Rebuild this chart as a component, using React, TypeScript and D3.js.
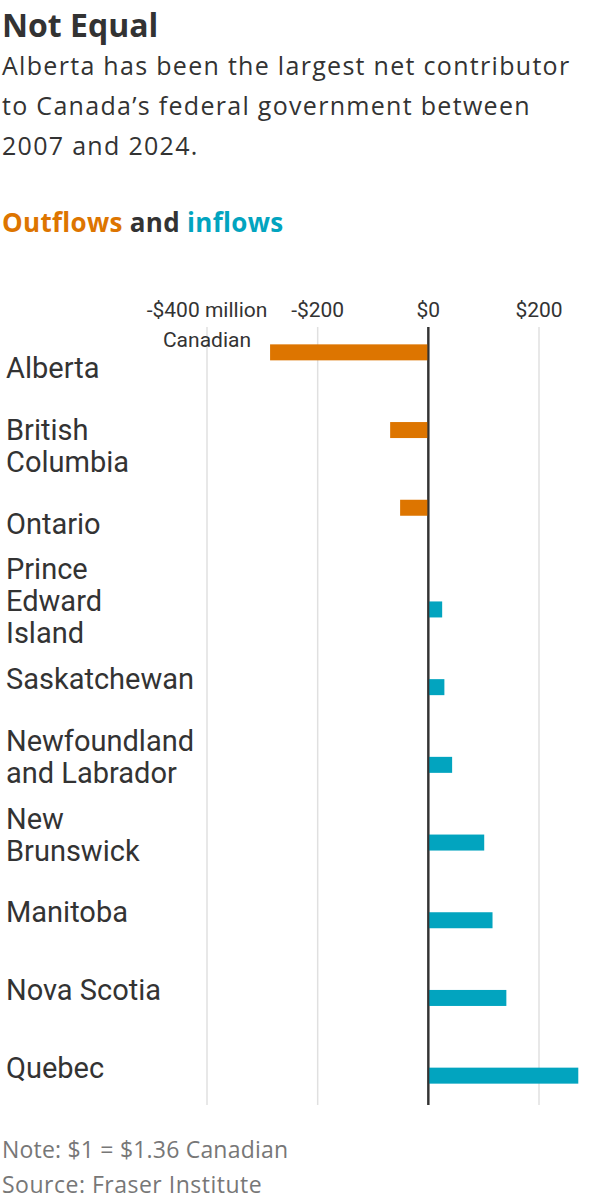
import React from "react";
import * as d3 from "d3";

const provinces = [
  "Alberta",
  "British Columbia",
  "Ontario",
  "Prince Edward Island",
  "Saskatchewan",
  "Newfoundland and Labrador",
  "New Brunswick",
  "Manitoba",
  "Nova Scotia",
  "Quebec",
];
const labelLines = [
  ["Alberta"],
  ["British", "Columbia"],
  ["Ontario"],
  ["Prince", "Edward", "Island"],
  ["Saskatchewan"],
  ["Newfoundland", "and Labrador"],
  ["New", "Brunswick"],
  ["Manitoba"],
  ["Nova Scotia"],
  ["Quebec"],
];
const netFlows = [-286, -69, -51, 25, 29, 43, 101, 116, 141, 271];
const tickValues = [-400, -200, 0, 200];
const tickLabels = ["-$400 million", "-$200", "$0", "$200"];

const title = "Not Equal";
const subtitleLines = [
  "Alberta has been the largest net contributor",
  "to Canada\u2019s federal government between",
  "2007 and 2024.",
];
const note = "Note: $1 = $1.36 Canadian";
const source = "Source: Fraser Institute";

const ORANGE = "#dd7500";
const TEAL = "#02a4bf";
const DARK = "#333333";
const GRID = "#e0e0e0";
const FONT = "Roboto, 'Open Sans', sans-serif";
const HEAD_FONT = "'Open Sans', Roboto, sans-serif";

export default function App() {
  const width = 600;
  const height = 1200;
  const x = d3.scaleLinear().domain([-400, 200]).range([207, 539]);
  const y = d3.scaleBand<string>().domain(provinces).range([329, 1106]).padding(0);
  const gridTop = 327;
  const gridBottom = 1105;
  const barH = 16;
  const lineH = 32;

  return (
    <svg
      width={width}
      height={height}
      style={{ position: "absolute", left: 0, top: 0, fontFamily: FONT }}
    >
      <rect width={width} height={height} fill="#fff" />
      <text x={2} y={37} fontSize={32} fontWeight={700} fill={DARK} fontFamily={HEAD_FONT}>
        {title}
      </text>
      {subtitleLines.map((l, i) => (
        <text
          key={i}
          x={2}
          y={75 + i * 40}
          fontSize={25}
          letterSpacing={1.3}
          fill={DARK}
          fontFamily={HEAD_FONT}
        >
          {l}
        </text>
      ))}
      <text x={2} y={232} fontSize={26} letterSpacing={0.3} fontWeight={700} fontFamily={HEAD_FONT}>
        <tspan fill={ORANGE}>Outflows</tspan>
        <tspan fill={DARK}> and </tspan>
        <tspan fill={TEAL}>inflows</tspan>
      </text>

      {tickValues.map((t, i) => (
        <g key={t}>
          <line
            x1={x(t)}
            x2={x(t)}
            y1={gridTop}
            y2={gridBottom}
            stroke={t === 0 ? DARK : GRID}
            strokeWidth={t === 0 ? 2 : 1.5}
          />
          <text x={x(t)} y={317} fontSize={21} textAnchor="middle" fill={DARK}>
            {tickLabels[i]}
          </text>
          {i === 0 && (
            <text x={x(t)} y={347} fontSize={21} textAnchor="middle" fill={DARK}>
              Canadian
            </text>
          )}
        </g>
      ))}

      {provinces.map((p, i) => {
        const c = (y(p) as number) + y.bandwidth() / 2;
        const lines = labelLines[i];
        const first = c - ((lines.length - 1) * lineH) / 2 + 10.5;
        return (
          <text key={p} fontSize={29} fill={DARK}>
            {lines.map((l, j) => (
              <tspan key={j} x={6} y={first + j * lineH}>
                {l}
              </tspan>
            ))}
          </text>
        );
      })}

      {provinces.map((p, i) => {
        const v = netFlows[i];
        const c = (y(p) as number) + y.bandwidth() / 2 + (v < 0 ? -15.5 : 8.5);
        return (
          <rect
            key={p}
            x={Math.min(x(0), x(v))}
            width={Math.abs(x(v) - x(0))}
            y={c - barH / 2}
            height={barH}
            fill={v < 0 ? ORANGE : TEAL}
          />
        );
      })}
      <line x1={x(0)} x2={x(0)} y1={gridTop} y2={gridBottom} stroke={DARK} strokeWidth={2} />

      <text x={2} y={1158} fontSize={23} letterSpacing={0.2} fill="#777" fontFamily={HEAD_FONT}>
        {note}
      </text>
      <text x={2} y={1193} fontSize={23} letterSpacing={0.5} fill="#777" fontFamily={HEAD_FONT}>
        {source}
      </text>
    </svg>
  );
}
